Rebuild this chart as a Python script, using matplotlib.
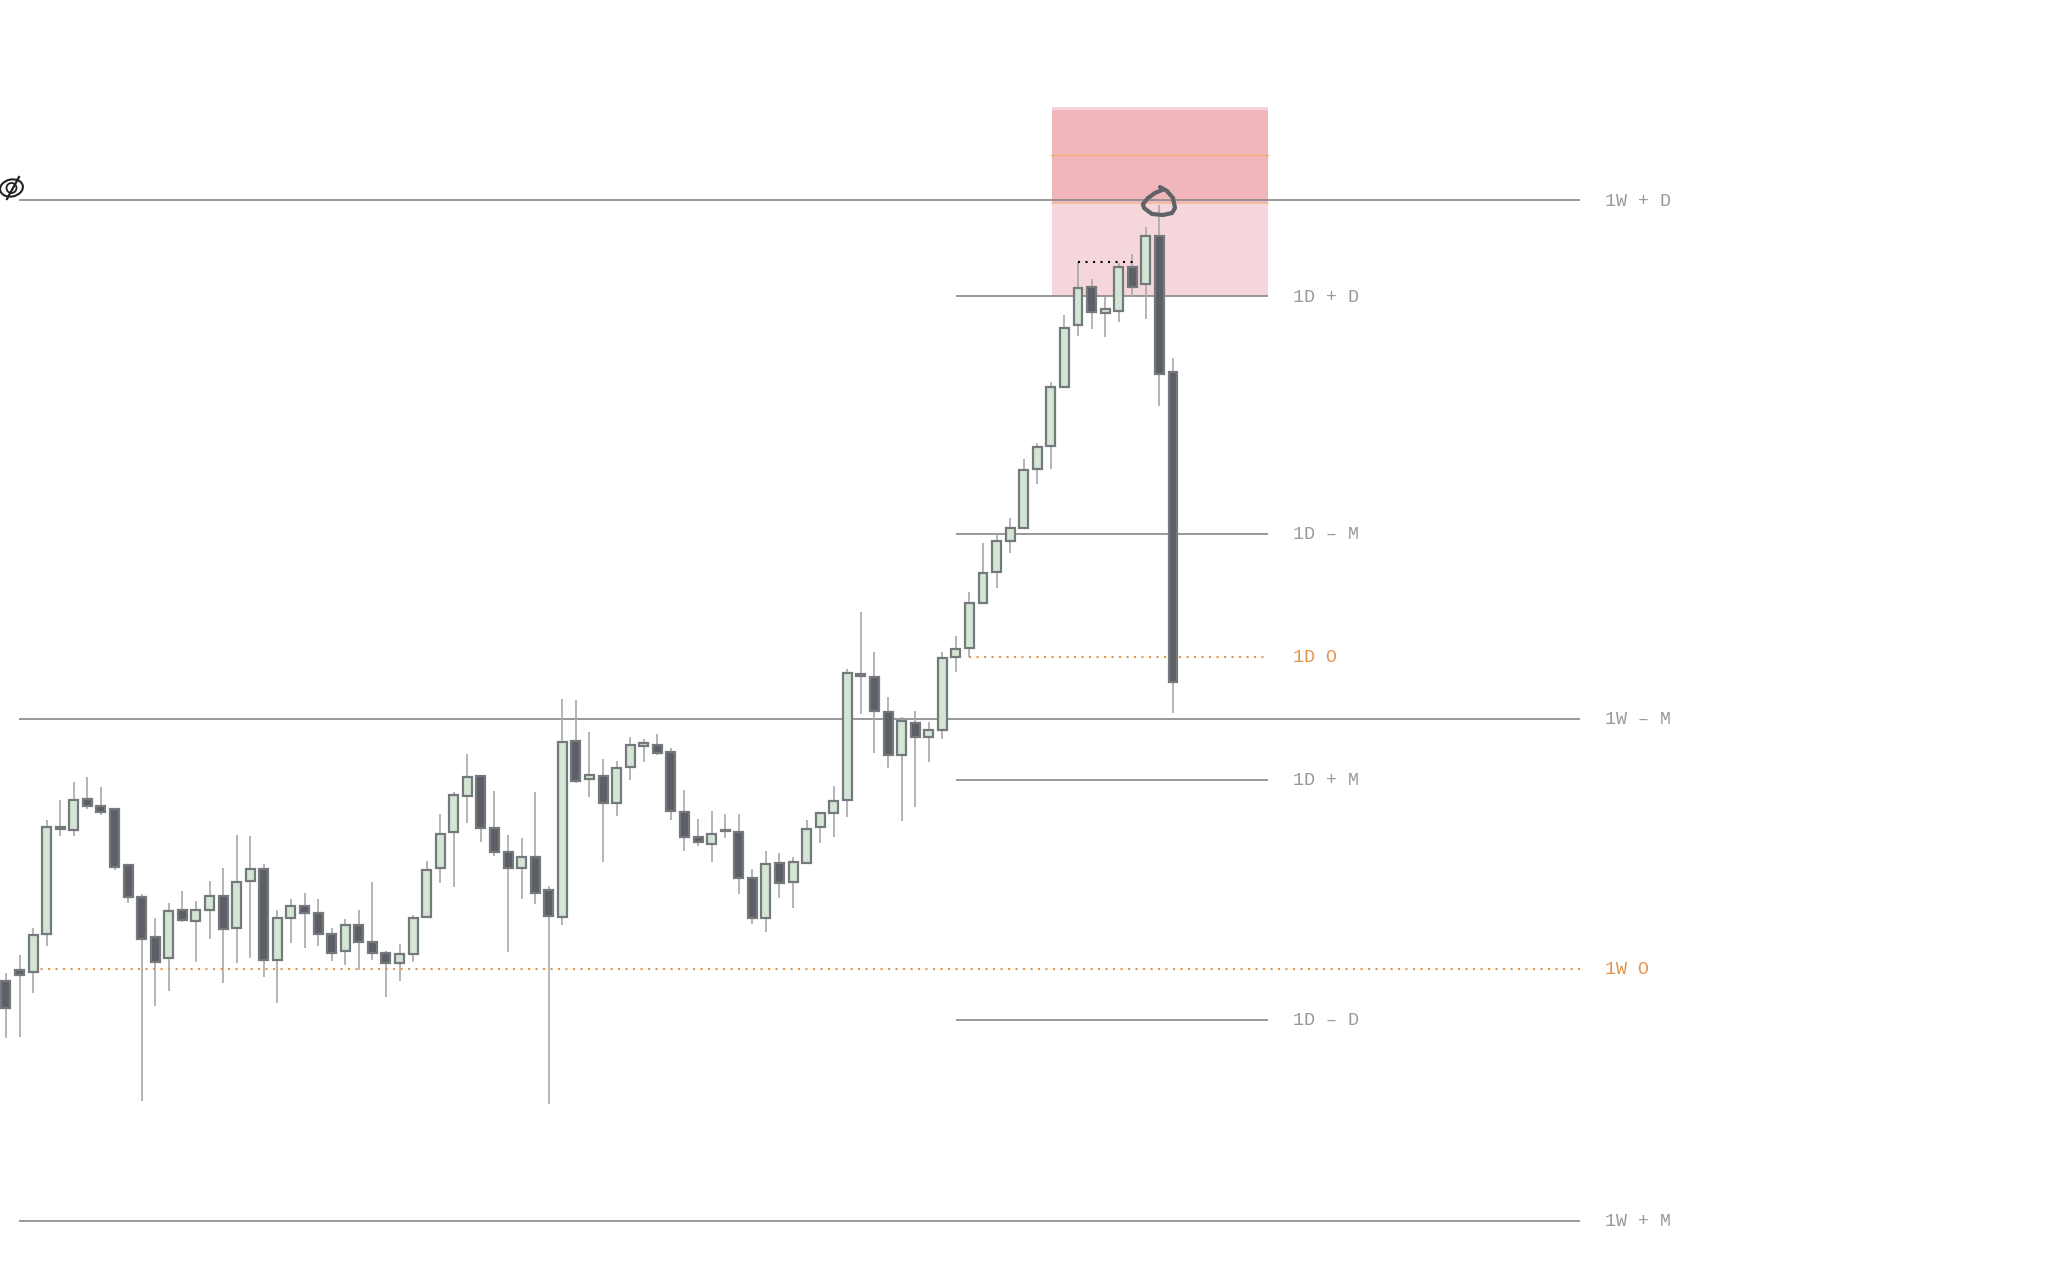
import matplotlib
matplotlib.use("Agg")
import matplotlib.pyplot as plt
from matplotlib.patches import Rectangle, Ellipse
from matplotlib.transforms import Affine2D

high = [872,926,1007,1332,1391,1445,1460,1431,1369,1201,1110,1037,1082,1119,1088,1150,1187,1287,1284,1201,1061,1096,1112,1096,1008,1036,1062,1145,939,959,
        1046,1209,1349,1415,1531,1468,1420,1287,1278,1415,1134,1695,1693,1596,1514,1508,1580,1576,1591,1547,1423,1335,1360,1349,1349,1184,1238,1233,1221,1332,
        1357,1433,1784,1957,1837,1700,1640,1658,1627,1835,1883,2016,2162,2189,2238,2414,2462,2647,2846,3007,2954,2902,3002,3029,3111,3177,2718]
top = [850,882,987,1311,1311,1393,1394,1374,1365,1198,1101,982,1060,1061,1063,1103,1103,1146,1186,1186,1038,1075,1073,1052,990,1018,1016,967,933,930,
       1038,1183,1291,1408,1461,1465,1308,1237,1222,1220,1121,1567,1570,1467,1465,1489,1557,1563,1558,1535,1357,1280,1290,1302,1297,1157,1200,1203,1205,1305,
       1353,1390,1774,1770,1762,1657,1629,1624,1603,1819,1844,1984,2072,2168,2208,2381,2452,2632,2808,2927,2930,2865,2990,2992,3083,3083,2677]
bottom = [769,868,875,991,1306,1303,1373,1356,1192,1101,976,907,917,1033,1030,1062,1004,1007,1150,911,911,1039,1053,990,933,939,967,933,904,902,
          931,1041,1187,1297,1403,1308,1237,1189,1189,1112,1044,1042,1450,1454,1384,1382,1490,1553,1533,1360,1280,1265,1261,1299,1157,1038,1039,1144,1147,1204,
          1310,1352,1392,1763,1658,1527,1527,1581,1581,1602,1820,1848,1982,2076,2169,2209,2385,2454,2630,2817,2857,2854,2860,2932,2939,2671,1745]
low = [677,680,814,955,1285,1285,1364,1346,1182,1084,490,774,818,1027,907,975,844,904,918,862,784,964,949,955,910,898,882,913,802,850,
       907,1041,1143,1131,1324,1267,1225,935,1096,1080,479,1017,1444,1401,1205,1344,1452,1506,1526,1333,1239,1253,1207,1279,1109,1021,997,1099,1068,1204,
       1263,1282,1342,1651,1532,1489,1330,1372,1507,1574,1777,1820,1982,2029,2134,2209,2341,2384,2630,2785,2805,2782,2827,2900,2836,2575,1654]
falling = [0,1,4,6,7,8,9,10,11,13,16,19,22,23,24,26,27,28,35,36,37,39,40,42,44,48,49,50,51,53,54,55,57,63,64,65,67,80,83,85,86]

levels_week = {"1W + D": 3191, "1W \u2013 M": 1635, "1W + M": 129}
level_week_open = ("1W O", 884)
levels_day = {"1D + D": 2903, "1D \u2013 M": 2191, "1D + M": 1453, "1D \u2013 D": 732}
level_day_open = ("1D O", 1821)
zone_top, zone_strip, zone_mid, zone_bottom = 3470, 3462, 3184, 2904
zone_line = 3327
swing_high = 3007

GREY = "#8c8c8c"; TEXT = "#9a9a9a"; ORANGE = "#e5954a"
EDGE = "#75787d"; UP = "#d3e6d3"; DOWN = "#5c5f66"; WICK = "#ababab"
dotted = (0, (1.0, 2.6))
mono = ["Liberation Mono", "DejaVu Sans Mono"]
FS = 13.2

fig = plt.figure(figsize=(20.48, 12.64), dpi=100, facecolor="white")
ax = fig.add_axes([0, 0, 1, 1])
ax.set_xlim(-0.44, 150.48)
ax.set_ylim(0, 3792)
ax.axis("off")

ax.add_patch(Rectangle((77.05, zone_bottom), 15.95, zone_top - zone_bottom, fc="#f5d6da", ec="none", zorder=1))
ax.add_patch(Rectangle((77.05, zone_mid), 15.95, zone_strip - zone_mid, fc="#f1b5bc", ec="none", zorder=1.1))
ax.plot([77, 93], [zone_line] * 2, color="#f1b070", lw=1.0, zorder=1.2)
ax.plot([77, 93], [zone_mid] * 2, color="#f3c49a", lw=0.8, zorder=1.2)


def label(x, v, s, color):
    ax.text(x, v - 2, s, color=color, fontsize=FS, family=mono, va="center", ha="left")


for name, v in levels_week.items():
    ax.plot([0.98, 116], [v, v], color=GREY, lw=1.25, zorder=2, solid_capstyle="butt")
    label(117.8, v, name, TEXT)
for name, v in levels_day.items():
    ax.plot([70, 93], [v, v], color=GREY, lw=1.25, zorder=2, solid_capstyle="butt")
    label(94.85, v, name, TEXT)
ax.plot([2, 116], [level_week_open[1]] * 2, color=ORANGE, lw=1.5, ls=dotted, zorder=3.5)
label(117.8, level_week_open[1], level_week_open[0], ORANGE)
ax.plot([71, 93], [level_day_open[1]] * 2, color=ORANGE, lw=1.5, ls=dotted, zorder=3.5)
label(94.85, level_day_open[1], level_day_open[0], ORANGE)

for i, (h, t, b, l) in enumerate(zip(high, top, bottom, low)):
    ax.plot([i, i], [l, h], color=WICK, lw=1.25, zorder=3, solid_capstyle="butt")
    ax.add_patch(Rectangle((i - 0.33, b), 0.66, t - b, fc=DOWN if i in falling else UP, ec=EDGE, lw=1.6, zorder=4))

ax.plot([79, 83.4], [swing_high, swing_high], color="black", lw=1.5, ls=dotted, zorder=5)

# Hand-drawn marks, placed in pixels
pix = Affine2D().scale(1, -1).translate(0, 1264)
sketch_x = [1160, 1167, 1173, 1175, 1172, 1163, 1152, 1144, 1143, 1148, 1155, 1162]
sketch_y = [187, 191, 198, 208, 213, 215, 214, 208, 204, 198, 193, 190]
ax.plot(sketch_x, sketch_y, color="#5f6368", lw=3.0, transform=pix,
        solid_capstyle="round", solid_joinstyle="round", zorder=6)
ax.add_patch(Ellipse((11.5, 188), 23, 17, angle=-12, fc="none", ec="#222222", lw=1.5, transform=pix, zorder=6))
ax.add_patch(Ellipse((11.5, 188), 10, 10, fc="none", ec="#222222", lw=1.3, transform=pix, zorder=6))
ax.plot([7, 19], [199, 177], color="#222222", lw=1.6, transform=pix, zorder=6)

fig.savefig("out.png", dpi=100, facecolor="white")
